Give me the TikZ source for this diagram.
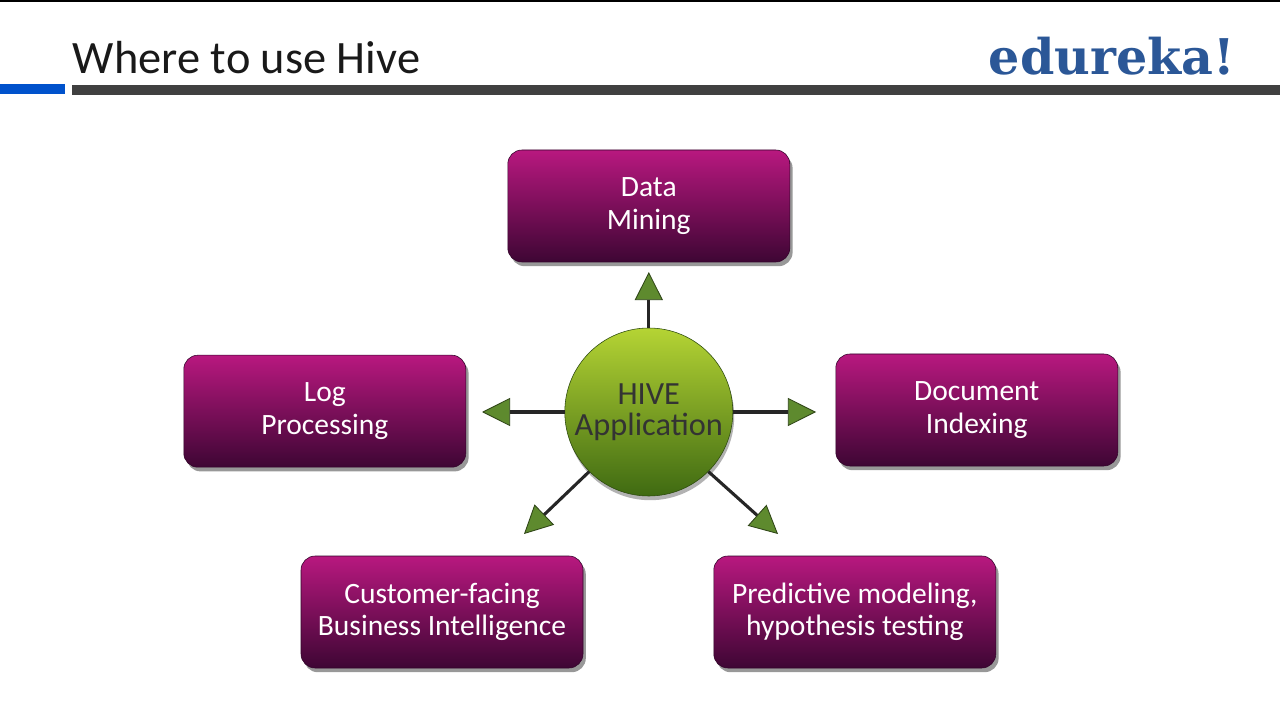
\documentclass[tikz,border=0pt]{standalone}
\usepackage{fontspec}
\setmainfont{Carlito}
\newfontfamily\logofont{DejaVu Serif}
\usepackage{tikz}
\usetikzlibrary{arrows.meta,shadows,positioning}
\definecolor{boxtop}{HTML}{B8187F}
\definecolor{boxbot}{HTML}{3E0634}
\definecolor{hubtop}{HTML}{B5D434}
\definecolor{hubbot}{HTML}{3F6A12}
\definecolor{tipgreen}{HTML}{5E8A2E}
\definecolor{logoblue}{HTML}{2B5797}

\begin{document}
\begin{tikzpicture}[
    x=1cm, y=1cm,
    usecase/.style={
      rectangle,
      rounded corners=10pt,
      minimum width=7.05cm,
      minimum height=2.8cm,
      top color=boxtop,
      bottom color=boxbot,
      draw=boxbot!80!black,
      text=white,
      align=center,
      font=\fontsize{21}{23}\selectfont,
      drop shadow={shadow xshift=2pt, shadow yshift=-3pt, fill=black!80}
    },
    hub/.style={
      circle,
      minimum size=4.2cm,
      inner sep=0pt,
      top color=hubtop,
      bottom color=hubbot,
      draw=hubbot!70!black,
      align=center,
      text=black!80,
      font=\fontsize{23}{24}\selectfont,
      drop shadow={shadow xshift=1pt, shadow yshift=-3pt, fill=black!60}
    },
    spoke/.style={
      line width=2.2pt,
      black!85,
      -{Triangle[length=20pt, width=20pt, fill=tipgreen, color=tipgreen!50!black, line width=0.6pt]}
    }
  ]

    % page frame
    \useasboundingbox (0,0) rectangle (32,18);
    \fill[white] (0,0) rectangle (32,18);
    \fill[black] (0,17.95) rectangle (32,18);

    % header
    \node[anchor=west, font=\fontsize{33}{36}\selectfont, text=black!90] (title) at (1.7,16.55) {Where to use Hive};
    \node[anchor=east, font=\logofont\bfseries\fontsize{35}{38}\selectfont, text=logoblue] (logo) at (31,16.6) {edureka!};
    \fill[blue!60!cyan!80!black] (0,15.65) rectangle (1.62,15.9);
    \fill[black!75] (1.8,15.62) rectangle (32,15.88);

    % centre
    \node[hub] (hive) at (16.22,7.7) {HIVE\\[-2pt]Application};

    % use cases
    \node[usecase] (mining) at (16.22,12.85) {Data\\Mining};
    \node[usecase] (logs) at (8.12,7.72) {Log\\Processing};
    \node[usecase] (docs) at (24.42,7.75) {Document\\Indexing};
    \node[usecase] (bi) at (11.05,2.7) {Customer-facing\\Business Intelligence};
    \node[usecase] (predict) at (21.37,2.7) {Predictive modeling,\\hypothesis testing};

    % arrow tips
    \coordinate (tipN) at (16.22,11.2);
    \coordinate (tipW) at (12.05,7.7);
    \coordinate (tipE) at (20.4,7.7);
    \coordinate (tipSW) at (13.1,4.65);
    \coordinate (tipSE) at (19.45,4.65);

    % spokes
    \draw[spoke] (hive.north) -- (tipN);
    \draw[spoke] (hive.west) -- (tipW);
    \draw[spoke] (hive.east) -- (tipE);
    \draw[spoke] (hive.225) -- (tipSW);
    \draw[spoke] (hive.315) -- (tipSE);

\end{tikzpicture}
\end{document}
